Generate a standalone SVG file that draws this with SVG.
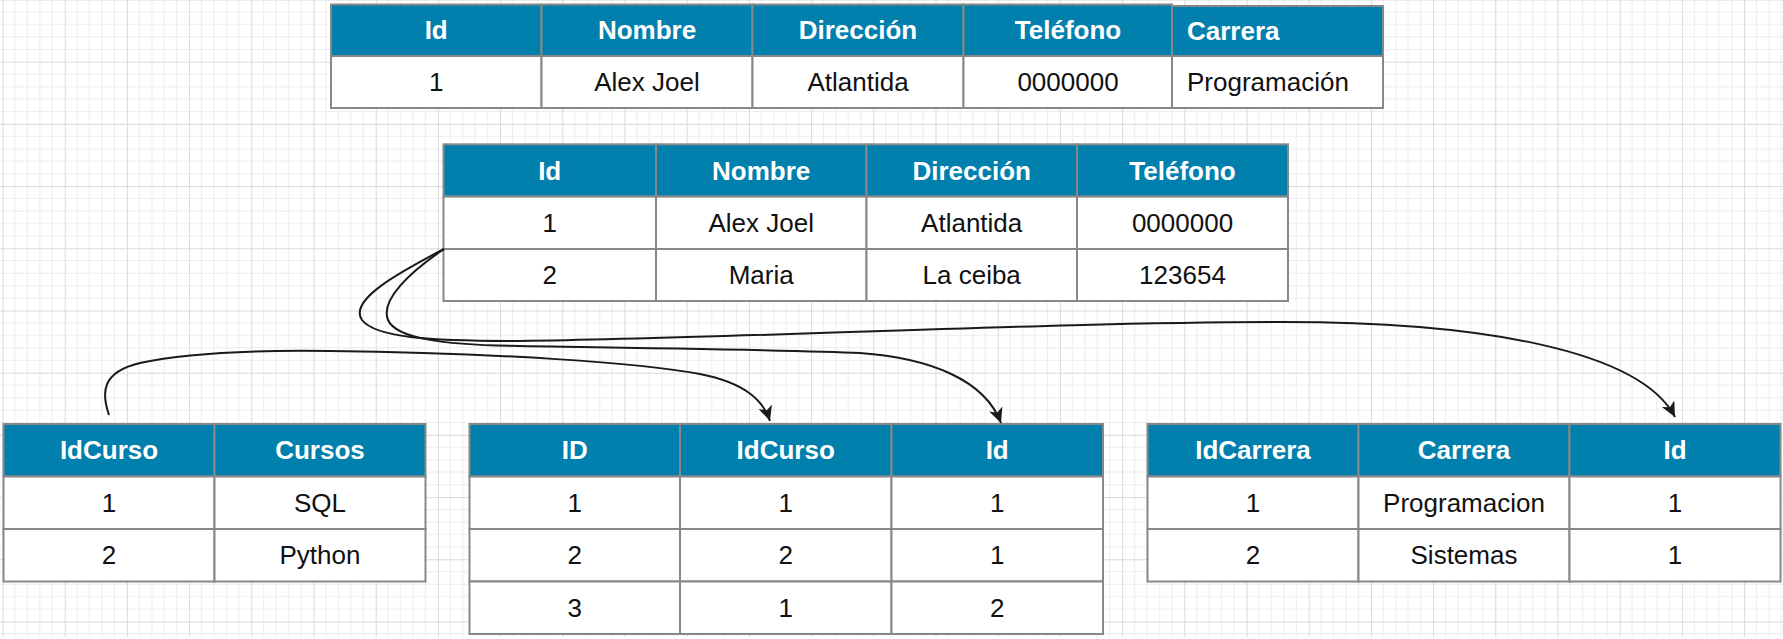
<svg xmlns="http://www.w3.org/2000/svg" width="1783" height="639" viewBox="0 0 1783 639">
<defs>
<pattern id="grid" patternUnits="userSpaceOnUse" x="2.5" y="-0.5" width="62.2" height="62.2">
<path d="M12.44 0V62.2M24.88 0V62.2M37.32 0V62.2M49.76 0V62.2M0 12.44H62.2M0 24.88H62.2M0 37.32H62.2M0 49.76H62.2" stroke="#ececec" stroke-width="1" fill="none"/>
<path d="M0.5 0V62.2M0 0.5H62.2" stroke="#d9d9d9" stroke-width="1" fill="none"/>
</pattern>
<marker id="arrow" markerUnits="userSpaceOnUse" markerWidth="18" markerHeight="16" refX="15" refY="7" orient="auto">
<path d="M0,0 L15,7 L0,14 L4,7 Z" fill="#1a1a1a"/>
</marker>
<style>
.h{fill:#0180ae;stroke:#888888;stroke-width:2}
.c{fill:#ffffff;stroke:#888888;stroke-width:2}
.ht{font-family:"Liberation Sans",Arial,sans-serif;font-size:26px;font-weight:bold;fill:#ffffff;text-anchor:middle}
.dt{font-family:"Liberation Sans",Arial,sans-serif;font-size:26px;fill:#111111;text-anchor:middle}
.l{text-anchor:start}
.e{fill:none;stroke:#1a1a1a;stroke-width:2;marker-end:url(#arrow)}
</style>
</defs>
<rect x="0" y="0" width="1783" height="639" fill="#ffffff"/>
<rect x="0" y="0" width="1783" height="637" fill="url(#grid)"/>

<g id="estudiante-carrera-a">
<rect class="h" x="331" y="4.5" width="210.5" height="51.5"/>
<rect class="h" x="541.5" y="4.5" width="211" height="51.5"/>
<rect class="h" x="752.5" y="4.5" width="211" height="51.5"/>
<rect class="h" x="963.5" y="4.5" width="208.5" height="51.5"/>
<rect class="c" x="331" y="56" width="210.5" height="52"/>
<rect class="c" x="541.5" y="56" width="211" height="52"/>
<rect class="c" x="752.5" y="56" width="211" height="52"/>
<rect class="c" x="963.5" y="56" width="208.5" height="52"/>
<text class="ht" x="436.2" y="39">Id</text>
<text class="ht" x="647" y="39">Nombre</text>
<text class="ht" x="858" y="39">Dirección</text>
<text class="ht" x="1068" y="39">Teléfono</text>
<text class="dt" x="436.2" y="91">1</text>
<text class="dt" x="647" y="91">Alex Joel</text>
<text class="dt" x="858" y="91">Atlantida</text>
<text class="dt" x="1068" y="91">0000000</text>
</g>

<g id="estudiante-carrera-b">
<rect class="h" x="1172" y="6" width="211" height="50"/>
<rect class="c" x="1172" y="56" width="211" height="52"/>
<text class="ht l" x="1187" y="40">Carrera</text>
<text class="dt l" x="1187" y="91">Programación</text>
</g>

<g id="estudiantes">
<rect class="h" x="443.5" y="144.3" width="212.5" height="52.3"/>
<rect class="h" x="656" y="144.3" width="210.5" height="52.3"/>
<rect class="h" x="866.5" y="144.3" width="210.5" height="52.3"/>
<rect class="h" x="1077" y="144.3" width="211" height="52.3"/>
<rect class="c" x="443.5" y="196.6" width="212.5" height="52.4"/>
<rect class="c" x="656" y="196.6" width="210.5" height="52.4"/>
<rect class="c" x="866.5" y="196.6" width="210.5" height="52.4"/>
<rect class="c" x="1077" y="196.6" width="211" height="52.4"/>
<rect class="c" x="443.5" y="249" width="212.5" height="52"/>
<rect class="c" x="656" y="249" width="210.5" height="52"/>
<rect class="c" x="866.5" y="249" width="210.5" height="52"/>
<rect class="c" x="1077" y="249" width="211" height="52"/>
<text class="ht" x="549.7" y="179.5">Id</text>
<text class="ht" x="761.2" y="179.5">Nombre</text>
<text class="ht" x="971.7" y="179.5">Dirección</text>
<text class="ht" x="1182.5" y="179.5">Teléfono</text>
<text class="dt" x="549.7" y="231.8">1</text>
<text class="dt" x="761.2" y="231.8">Alex Joel</text>
<text class="dt" x="971.7" y="231.8">Atlantida</text>
<text class="dt" x="1182.5" y="231.8">0000000</text>
<text class="dt" x="549.7" y="284">2</text>
<text class="dt" x="761.2" y="284">Maria</text>
<text class="dt" x="971.7" y="284">La ceiba</text>
<text class="dt" x="1182.5" y="284">123654</text>
</g>

<g id="cursos">
<rect class="h" x="3.5" y="424" width="211" height="52.5"/>
<rect class="h" x="214.5" y="424" width="211" height="52.5"/>
<rect class="c" x="3.5" y="476.5" width="211" height="52.5"/>
<rect class="c" x="214.5" y="476.5" width="211" height="52.5"/>
<rect class="c" x="3.5" y="529" width="211" height="52.5"/>
<rect class="c" x="214.5" y="529" width="211" height="52.5"/>
<text class="ht" x="109" y="459">IdCurso</text>
<text class="ht" x="320" y="459">Cursos</text>
<text class="dt" x="109" y="511.5">1</text>
<text class="dt" x="320" y="511.5">SQL</text>
<text class="dt" x="109" y="564">2</text>
<text class="dt" x="320" y="564">Python</text>
</g>

<g id="estudiante-curso">
<rect class="h" x="469.5" y="424" width="210.5" height="52.5"/>
<rect class="h" x="680" y="424" width="211.5" height="52.5"/>
<rect class="h" x="891.5" y="424" width="211.5" height="52.5"/>
<rect class="c" x="469.5" y="476.5" width="210.5" height="52.5"/>
<rect class="c" x="680" y="476.5" width="211.5" height="52.5"/>
<rect class="c" x="891.5" y="476.5" width="211.5" height="52.5"/>
<rect class="c" x="469.5" y="529" width="210.5" height="52.5"/>
<rect class="c" x="680" y="529" width="211.5" height="52.5"/>
<rect class="c" x="891.5" y="529" width="211.5" height="52.5"/>
<rect class="c" x="469.5" y="581.5" width="210.5" height="52.5"/>
<rect class="c" x="680" y="581.5" width="211.5" height="52.5"/>
<rect class="c" x="891.5" y="581.5" width="211.5" height="52.5"/>
<text class="ht" x="574.7" y="459">ID</text>
<text class="ht" x="785.7" y="459">IdCurso</text>
<text class="ht" x="997.2" y="459">Id</text>
<text class="dt" x="574.7" y="511.5">1</text>
<text class="dt" x="785.7" y="511.5">1</text>
<text class="dt" x="997.2" y="511.5">1</text>
<text class="dt" x="574.7" y="564">2</text>
<text class="dt" x="785.7" y="564">2</text>
<text class="dt" x="997.2" y="564">1</text>
<text class="dt" x="574.7" y="616.5">3</text>
<text class="dt" x="785.7" y="616.5">1</text>
<text class="dt" x="997.2" y="616.5">2</text>
</g>

<g id="carreras">
<rect class="h" x="1147.5" y="424" width="211" height="52.5"/>
<rect class="h" x="1358.5" y="424" width="211" height="52.5"/>
<rect class="h" x="1569.5" y="424" width="211" height="52.5"/>
<rect class="c" x="1147.5" y="476.5" width="211" height="52.5"/>
<rect class="c" x="1358.5" y="476.5" width="211" height="52.5"/>
<rect class="c" x="1569.5" y="476.5" width="211" height="52.5"/>
<rect class="c" x="1147.5" y="529" width="211" height="52.5"/>
<rect class="c" x="1358.5" y="529" width="211" height="52.5"/>
<rect class="c" x="1569.5" y="529" width="211" height="52.5"/>
<text class="ht" x="1253" y="459">IdCarrera</text>
<text class="ht" x="1464" y="459">Carrera</text>
<text class="ht" x="1675" y="459">Id</text>
<text class="dt" x="1253" y="511.5">1</text>
<text class="dt" x="1464" y="511.5">Programacion</text>
<text class="dt" x="1675" y="511.5">1</text>
<text class="dt" x="1253" y="564">2</text>
<text class="dt" x="1464" y="564">Sistemas</text>
<text class="dt" x="1675" y="564">1</text>
</g>

<g id="connectors">
<path class="e" d="M444,249 C400,272 348,300 362,320 C376,338 430,341 520,341 C750,338 1050,322 1284,322 C1480,322 1640,350 1675,417"/>
<path class="e" d="M444,249 C410,272 380,300 388,320 C396,338 440,345 520,346 C650,348 800,350 860,353 C930,358 985,380 1001,423"/>
<path class="e" d="M109,415 C101,392 102,372 140,363 C190,352 260,350 330,351 C500,353 640,363 700,374 C745,383 763,400 770,421"/>
</g>
</svg>
